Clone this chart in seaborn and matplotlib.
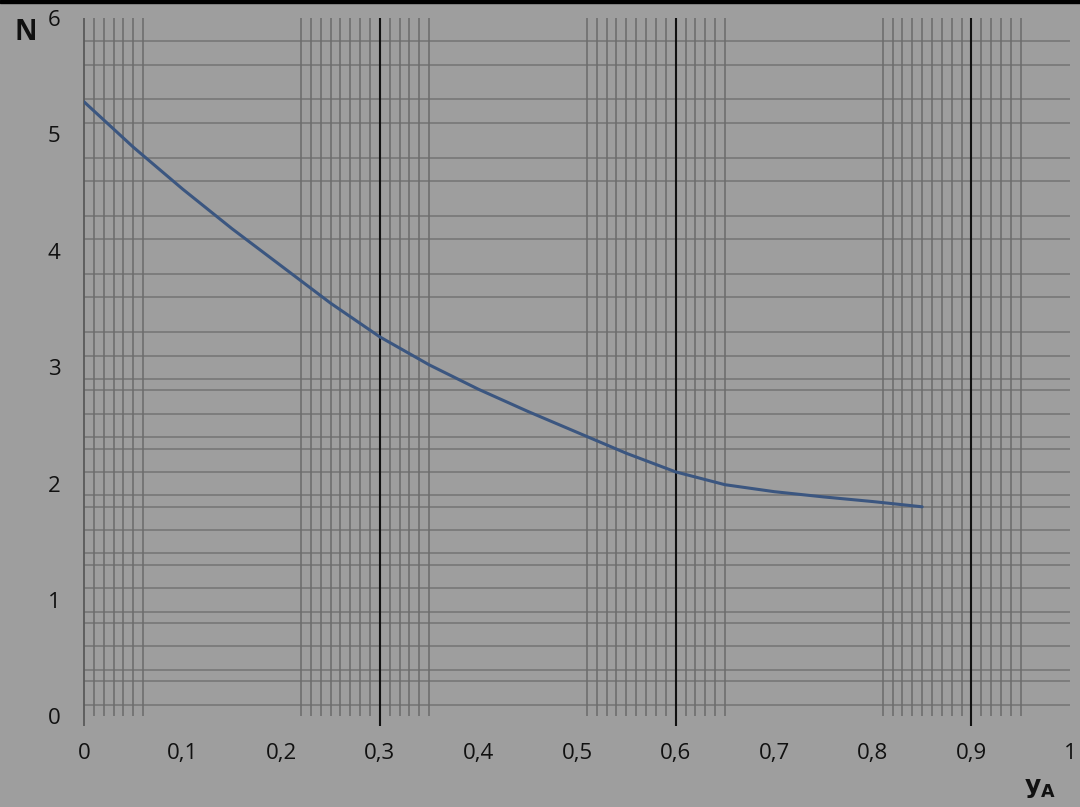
import numpy as np
import pandas as pd
import matplotlib.pyplot as plt
import seaborn as sns
from matplotlib.patches import Rectangle

# curve values
y_a = [0.0, 0.05, 0.1, 0.15, 0.2, 0.25, 0.3, 0.35, 0.4, 0.45, 0.5, 0.55, 0.6,
       0.65, 0.7, 0.75, 0.8, 0.85]
n_val = [5.28, 4.89, 4.53, 4.19, 3.87, 3.55, 3.26, 3.02, 2.81, 2.62, 2.44, 2.26,
         2.10, 1.99, 1.93, 1.885, 1.845, 1.80]

x_ticks = [0, 0.1, 0.2, 0.3, 0.4, 0.5, 0.6, 0.7, 0.8, 0.9, 1.0]
x_labels = ["0", "0,1", "0,2", "0,3", "0,4", "0,5", "0,6", "0,7", "0,8", "0,9", "1"]
y_ticks = [0, 1, 2, 3, 4, 5, 6]
y_labels = ["0", "1", "2", "3", "4", "5", "6"]

# graph-paper style grid
minor_x = ([i / 100 for i in range(1, 7)] + [i / 100 for i in range(22, 36)]
           + [i / 100 for i in range(51, 66)] + [i / 100 for i in range(81, 96)])
major_x = [0.3, 0.6, 0.9]
grid_y = [0.1, 0.3, 0.4, 0.6, 0.8, 0.9, 1.1, 1.3, 1.4, 1.6, 1.8, 1.9, 2.1, 2.3,
          2.4, 2.6, 2.8, 2.9, 3.1, 3.3, 3.6, 3.8, 4.1, 4.3, 4.6, 4.8, 5.1, 5.3,
          5.6, 5.8]

bg = "#9e9e9e"
sns.set_style("white")
plt.rcParams["font.family"] = ["Open Sans", "DejaVu Sans"]

df = pd.DataFrame({"yA": y_a, "N": n_val})

fig = plt.figure(figsize=(10.8, 8.07), dpi=100)
fig.patch.set_facecolor(bg)
ax = fig.add_axes([0.0778, 0.1124, 0.913, 0.8653])
ax.set_facecolor(bg)

ax.hlines(grid_y, 0, 1, colors="#737373", linewidth=1.1, zorder=1)
ax.vlines(minor_x, 0, 6, colors="#6b6b6b", linewidth=1.1, zorder=1)
ax.vlines([0.0], -0.08, 6, colors="#5a5a5a", linewidth=1.3, zorder=1, clip_on=False)
ax.vlines(major_x, -0.08, 6, colors="#111111", linewidth=1.5, zorder=2, clip_on=False)

sns.lineplot(data=df, x="yA", y="N", color="#3b5680", linewidth=2.2, ax=ax, zorder=3)

ax.set_xlim(0, 1)
ax.set_ylim(0, 6)
ax.set_xticks(x_ticks)
ax.set_xticklabels(x_labels)
ax.set_yticks(y_ticks)
ax.set_yticklabels(y_labels)
ax.tick_params(axis="both", length=0, labelsize=16, colors="#111111")
ax.tick_params(axis="x", pad=19)
ax.tick_params(axis="y", pad=17)
for s in ax.spines.values():
    s.set_visible(False)
ax.set_xlabel("")
ax.set_ylabel("")

fig.text(26 / 1080, 1 - 33 / 807, "N", fontsize=20, fontweight="bold",
         ha="center", va="center", color="#111111")
fig.text(1040 / 1080, 1 - 788 / 807, r"$\mathbf{y}_{\mathbf{A}}$", fontsize=18,
         ha="center", va="center", color="#111111")

fig.patches.append(Rectangle((0, 1 - 3 / 807), 1, 3 / 807, transform=fig.transFigure,
                             color="black", zorder=10))

fig.savefig("out.png", dpi=100, facecolor=bg)
